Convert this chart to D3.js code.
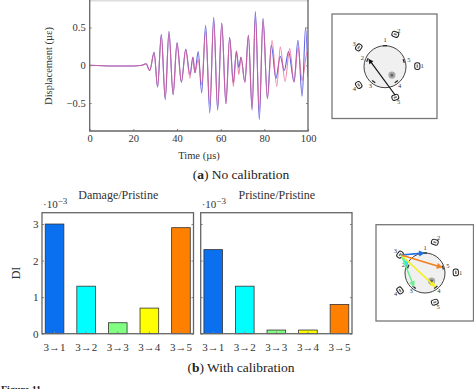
<!DOCTYPE html>
<html>
<head>
<meta charset="utf-8">
<script src="https://cdn.jsdelivr.net/npm/d3@7"></script>
<style>
  html, body { margin: 0; padding: 0; background: #fff; overflow: hidden; }
  svg { display: block; font-family: "Liberation Serif", serif; }
  .tick text { fill: #333; font-size: 10.5px; font-family: "Liberation Serif", serif; }
  .bars .tick text { font-size: 11px; }
  .tick line { stroke: #888; }
  .domain { display: none; }
</style>
</head>
<body>
<svg width="474" height="389">
  <defs><filter id="soft"><feGaussianBlur stdDeviation="0.3"/></filter></defs>
</svg>
<script>
const svg = d3.select('svg');

// signals
const blueTime = [0, 10, 20, 24, 25.8, 27.5, 29.5, 31.1, 32.8, 34.6, 36.3, 38.2, 40, 42, 44, 45.9, 47.3, 48.2, 49.7, 51.3, 53.1, 55, 56.8, 58.6, 60.5, 62.4, 64.1, 65.8, 67.2, 68.3, 69.3, 71.1, 72.7, 74.4, 75.9, 77.7, 79.4, 81.4, 83.2, 85.3, 87.3, 89.1, 91.1, 93.6, 95.4, 97.3, 98.9, 100];
const blueDisp = [0, -0.01, -0.01, 0, 0.02, -0.07, 0.17, -0.29, 0.41, -0.455, 0.45, -0.39, 0.30, -0.225, 0.21, -0.125, 0.105, -0.10, 0.18, -0.365, 0.53, -0.63, 0.635, -0.595, 0.56, -0.51, 0.365, -0.23, 0.185, -0.03, 0.105, -0.225, 0.395, -0.59, 0.71, -0.72, 0.62, -0.44, 0.265, -0.175, 0.12, -0.07, 0.18, -0.22, 0.33, -0.41, 0.50, -0.16];
const pinkTime = [0, 10, 20, 24, 25.8, 27.5, 29.5, 31.1, 32.8, 34.6, 36.3, 38.2, 40, 42, 44, 45.9, 47.3, 48.2, 49.7, 51.3, 53.1, 55, 56.8, 58.6, 60.5, 62.4, 64.1, 65.8, 67.2, 68.3, 69.3, 71.1, 72.7, 74.4, 75.9, 77.7, 79.4, 81.4, 83.5, 85.7, 87.3, 89.5, 91.6, 93.6, 95.4, 97.3, 99.7, 100];
const pinkDisp = [0, -0.01, -0.01, 0, 0.02, -0.07, 0.16, -0.28, 0.39, -0.43, 0.43, -0.38, 0.29, -0.22, 0.21, -0.17, 0.11, -0.10, 0.075, -0.255, 0.45, -0.52, 0.585, -0.56, 0.56, -0.51, 0.365, -0.28, 0.19, -0.125, 0.11, -0.225, 0.395, -0.57, 0.645, -0.61, 0.60, -0.44, 0.33, -0.28, 0.24, -0.215, 0.22, -0.22, 0.23, -0.20, 0.185, -0.01];

// bars
const pairs = ['3→1', '3→2', '3→3', '3→4', '3→5'];
const damageDI = [3.0, 1.3, 0.3, 0.7, 2.9];
const pristineDI = [2.3, 1.3, 0.1, 0.1, 0.8];
const barColors = ['#0a70f0', '#00ffff', '#80ff80', '#ffff00', '#ff8000'];

// sensor sketch, in circle radii from the centre
const outerNames = ['1', '2', '3', '4', '5'];
const outerX = [1.54, 0.49, -1.25, -1.25, 0.49];
const outerY = [-0.03, -1.54, -0.92, 0.87, 1.46];
const innerX = [0, -0.84, -0.54, 0.54, 0.89];
const innerY = [-1, -0.32, 0.71, 0.71, -0.27];
const arrowColors = ['#1f6fe0', '#30e8e8', '#70f090', '#f4f020', '#f08020'];

const ink = '#666';

// ---------- (a) line chart
const lx = d3.scaleLinear().domain([0, 100]).range([89.7, 308]);
const ly = d3.scaleLinear().domain([-0.87, 0.87]).range([131, -0.5]);

svg.append('clipPath').attr('id', 'plotClip').append('rect')
    .attr('x', 89.7).attr('y', 0).attr('width', 218.3).attr('height', 131);

const lineGen = d3.line()
    .x(d => lx(d[0]))
    .y(d => ly(d[1]))
    .curve(d3.curveMonotoneX);

const curves = svg.append('g').attr('clip-path', 'url(#plotClip)').append('g').attr('filter', 'url(#soft)');
[[blueTime, blueDisp, '#6060e0', 1], [pinkTime, pinkDisp, '#e8608c', 0.75]].forEach(([t, v, c, o]) => {
    curves.append('path')
        .attr('d', lineGen(d3.zip(t, v)))
        .attr('fill', 'none')
        .attr('stroke', c)
        .attr('stroke-opacity', o)
        .attr('stroke-width', 1.1);
});

function frame(x0, y0, x1, y1, color) {
    svg.append('rect')
        .attr('x', x0).attr('y', y0)
        .attr('width', x1 - x0).attr('height', y1 - y0)
        .attr('fill', 'none')
        .attr('stroke', color || ink)
        .attr('stroke-width', 1.3);
}

svg.append('g').attr('transform', 'translate(0,131)')
    .call(d3.axisBottom(lx).tickValues([0, 20, 40, 60, 80, 100]).tickSize(-2).tickPadding(4));
svg.append('g').attr('transform', 'translate(89.7,0)')
    .call(d3.axisLeft(ly).tickValues([-0.5, 0, 0.5]).tickFormat(d => d === 0 ? '0' : String(d).replace('-', '−')).tickSize(-2).tickPadding(4));
svg.append('g').attr('transform', 'translate(308,0)')
    .call(d3.axisRight(ly).tickValues([-0.5, 0, 0.5]).tickFormat('').tickSize(-2));
svg.append('rect').attr('x', 89).attr('y', 0).attr('width', 220).attr('height', 1.5).attr('fill', '#ddd');
svg.append('path').attr('d', 'M89.7,0V131H308V0').attr('fill', 'none').attr('stroke', ink).attr('stroke-width', 1.3);

function label(x, y, txt, size, rotate) {
    const t = svg.append('text')
        .attr('text-anchor', 'middle')
        .attr('font-size', size)
        .attr('fill', '#333')
        .text(txt);
    if (rotate) t.attr('transform', `translate(${x},${y}) rotate(-90)`);
    else t.attr('x', x).attr('y', y);
    return t;
}

label(52, 66, 'Displacement (µε)', 10.5, true);
label(199, 159, 'Time (µs)', 10.5);

function caption(x, y, tag, rest) {
    const t = svg.append('text').attr('x', x).attr('y', y).attr('text-anchor', 'middle')
        .attr('font-size', 13.5).attr('fill', '#222');
    t.append('tspan').text('(');
    t.append('tspan').attr('font-weight', 'bold').text(tag);
    t.append('tspan').text(') ' + rest);
}
caption(241, 179, 'a', 'No calibration');
caption(241, 372, 'b', 'With calibration');

// ---------- (b) bar charts
const by = d3.scaleLinear().domain([0, 3.31]).range([333.7, 212.7]);

function barPanel(x0, x1, values, title, showY) {
    const bx = d3.scaleBand().domain(pairs).range([x0, x1]).paddingInner(0.41).paddingOuter(0.102);
    const g = svg.append('g').attr('class', 'bars');
    g.append('g').selectAll('rect')
        .data(values)
        .join('rect')
        .attr('x', (d, i) => bx(pairs[i]))
        .attr('y', d => by(d))
        .attr('width', bx.bandwidth())
        .attr('height', d => by(0) - by(d))
        .attr('fill', (d, i) => barColors[i])
        .attr('stroke', '#333')
        .attr('stroke-width', 0.8);

    g.append('g').attr('transform', 'translate(0,333.7)')
        .call(d3.axisBottom(bx).tickSize(-2).tickPadding(10));
    g.append('g').attr('transform', `translate(${x0},0)`)
        .call(d3.axisLeft(by).tickValues([0, 1, 2, 3]).tickFormat(showY ? d3.format('d') : '').tickSize(-2).tickPadding(3.5));
    g.append('g').attr('transform', `translate(${x1},0)`)
        .call(d3.axisRight(by).tickValues([0, 1, 2, 3]).tickFormat('').tickSize(-2));
    frame(x0, 212.7, x1, 333.7);

    label((x0 + x1) / 2 + 0.5, 198.5, title, 12);
    const m = svg.append('text').attr('x', x0 + 1).attr('y', 208).attr('font-size', 11).attr('fill', '#333');
    m.append('tspan').text('·10');
    m.append('tspan').attr('dy', -4).attr('font-size', 9).text('−3');
}

barPanel(42, 193.5, damageDI, 'Damage/Pristine', true);
barPanel(200.7, 352, pristineDI, 'Pristine/Pristine', false);
label(20, 273, 'DI', 12, true);

// ---------- sensor sketches
const outerLabelDx = [4.7, 3.7, -4.7, -4.3, 3.3];
const outerLabelDy = [0, -4, -4, 3.7, 4.7];

function sketch(x0, y0, x1, y1, cx, cy, r, arrows) {
    frame(x0, y0, x1, y1, '#777');
    const sx = d3.scaleLinear().domain([-1, 1]).range([cx - r, cx + r]);
    const sy = d3.scaleLinear().domain([-1, 1]).range([cy - r, cy + r]);

    svg.append('circle').attr('cx', cx).attr('cy', cy).attr('r', r)
        .attr('fill', '#f0f0f0').attr('stroke', '#444').attr('stroke-width', 1);

    const blob = svg.append('g').attr('filter', 'url(#soft)');
    blob.append('circle').attr('cx', sx(0.33)).attr('cy', sy(0.4)).attr('r', 3.6).attr('fill', '#aaa');
    blob.append('circle').attr('cx', sx(0.33)).attr('cy', sy(0.4)).attr('r', 1.6).attr('fill', '#666');

    outerNames.forEach((name, i) => {
        const px = sx(outerX[i]), py = sy(outerY[i]);
        const ang = Math.atan2(outerY[i], outerX[i]) * 180 / Math.PI;
        const g = svg.append('g').attr('transform', `translate(${px},${py}) rotate(${ang})`);
        g.append('rect').attr('x', -2.6).attr('y', -3.4).attr('width', 5.2).attr('height', 6.8).attr('rx', 2.2)
            .attr('fill', '#fff').attr('stroke', '#222').attr('stroke-width', 1);
        g.append('rect').attr('x', -0.8).attr('y', -1.6).attr('width', 1.6).attr('height', 3.2).attr('fill', '#777');
        svg.append('text')
            .attr('x', px + outerLabelDx[i]).attr('y', py + outerLabelDy[i] + 2.2)
            .attr('text-anchor', 'middle').attr('font-size', 6.5).attr('fill', '#333').text(name);

        const ix = sx(innerX[i]), iy = sy(innerY[i]);
        svg.append('rect').attr('x', ix - 2).attr('y', iy - 0.6).attr('width', 4).attr('height', 1.2)
            .attr('fill', '#222')
            .attr('transform', `rotate(${Math.atan2(innerY[i], innerX[i]) * 180 / Math.PI + 90},${ix},${iy})`);
        svg.append('text')
            .attr('x', sx(innerX[i] * 1.28)).attr('y', sy(innerY[i] * 1.28) + 2.2)
            .attr('text-anchor', 'middle').attr('font-size', 6.5).attr('fill', '#333').text(name);
    });

    arrows.forEach(a => {
        const x0a = sx(a.fx), y0a = sy(a.fy), x1a = sx(a.tx), y1a = sy(a.ty);
        const ang = Math.atan2(y1a - y0a, x1a - x0a);
        const head = a.head;
        svg.append('line')
            .attr('x1', x0a).attr('y1', y0a)
            .attr('x2', x1a - Math.cos(ang) * head * 0.8).attr('y2', y1a - Math.sin(ang) * head * 0.8)
            .attr('stroke', a.color).attr('stroke-width', a.width);
        const pts = [[0, 0], [-head, -head * 0.5], [-head, head * 0.5]]
            .map(([u, v]) => [x1a + u * Math.cos(ang) - v * Math.sin(ang), y1a + u * Math.sin(ang) + v * Math.cos(ang)]);
        svg.append('polygon').attr('points', pts.join(' ')).attr('fill', a.color);
    });
}

sketch(332, 14, 437, 118.5, 385, 66.7, 21, [
    { fx: outerX[4], fy: outerY[4] - 0.1, tx: innerX[1] + 0.05, ty: innerY[1] - 0.06, color: '#111', width: 1.2, head: 5 }
]);

sketch(376, 224.7, 473.5, 321, 425, 273, 20, pairs.map((p, i) => ({
    fx: outerX[2] + 0.06, fy: outerY[2] + 0.02, tx: innerX[i], ty: innerY[i],
    color: arrowColors[i], width: 1.6, head: 6
})));

// line of the figure note, cut by the bottom edge as in the reference
svg.append('text').attr('x', 1).attr('y', 393).attr('font-size', 10).attr('font-weight', 'bold').attr('fill', '#222')
    .text('Figure 11.');
</script>
</body>
</html>
